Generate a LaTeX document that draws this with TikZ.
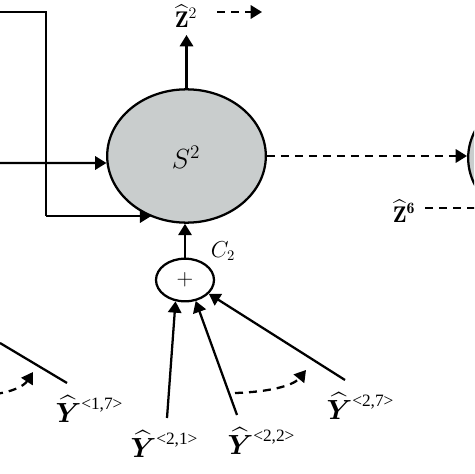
\documentclass[tikz,border=0pt]{standalone}
\usepackage{amsmath,bm}
\usepackage{fontspec}
\newfontfamily\tms{Liberation Serif}
\usetikzlibrary{arrows.meta,shapes.geometric}
\definecolor{cellgray}{RGB}{201,205,205}
\newcommand{\ysup}[1]{\raisebox{1.1ex}{\tms\fontsize{13}{14}\selectfont#1}}
\begin{document}
\begin{tikzpicture}[x=0.75pt,y=-0.75pt,
  ln/.style={line width=1.7pt},
  arr/.style={ln,-{Triangle[length=8.5pt,width=10pt]}},
  darr/.style={arr,dash pattern=on 6pt off 4.5pt},
  dln/.style={ln,dash pattern=on 6pt off 4.5pt},
  big/.style={ellipse,draw,line width=1.7pt,fill=cellgray,inner sep=0pt,minimum width=119pt,minimum height=100pt},
  sum/.style={ellipse,draw,line width=1.7pt,fill=white,inner sep=0pt,minimum width=43.5pt,minimum height=32pt},
  lab/.style={inner sep=0pt,font=\fontsize{20}{22}\selectfont}
]
\useasboundingbox (0,0) rectangle (474,474);
\clip (0,0) rectangle (474,474);
% main nodes
\node[big] (S2) at (186.5,156) {};
\node[lab] at (186,157) {$S^2$};
\node[big] (S6) at (547.5,158) {};
\node[sum,font=\fontsize{17}{18}\selectfont] (plus) at (185,280) {$+$};
% labels
\node[lab,font=\fontsize{17}{19}\selectfont] (Z2) at (186,16) {$\widehat{\mathbf{Z}}^{2}$};
\node[lab,font=\fontsize{17}{19}\selectfont] (Z6) at (404,211) {$\widehat{\mathbf{Z}}^{\mathbf{6}}$};
\node[lab,font=\fontsize{16}{18}\selectfont] (C2) at (223,251) {$C_2$};
\node[lab] (Y21) at (164,444) {$\widehat{\bm{Y}}$\ysup{<2,1>}};
\node[lab] (Y22) at (261,441) {$\widehat{\bm{Y}}$\ysup{<2,2>}};
\node[lab] (Y27) at (360,406) {$\widehat{\bm{Y}}$\ysup{<2,7>}};
\node[lab] (Y17) at (89,409) {$\widehat{\bm{Y}}$\ysup{<1,7>}};
% coordinates
\coordinate (ftop) at (0,12);
\coordinate (fcorner) at (46,216);
\coordinate (lin) at (0,163);
\coordinate (z2a) at (217,12);
\coordinate (z2b) at (262,12);
\coordinate (z6a) at (425,208);
\coordinate (z6b) at (480,208);
\coordinate (y21s) at (167,418);
\coordinate (y22s) at (237,415);
\coordinate (y27s) at (345,380);
\coordinate (y17a) at (0,343);
\coordinate (y17b) at (67,383);
\coordinate (c2a) at (235,393);
\coordinate (c2b) at (306,370);
\coordinate (c1a) at (-5,394);
\coordinate (c1b) at (33,372);
% connectors
\draw[arr] (S2.north) -- (S2.north |- 0,35);
\draw[darr] (z2a) -- (z2b);
\draw[ln] (ftop) -| (fcorner);
\draw[arr] (fcorner) -- (fcorner -| S2.240);
\draw[arr] (lin) -- (S2.185);
\draw[darr] (S2.east) -- (S2.east -| S6.west);
\draw[dln] (z6a) -- (z6b);
\draw[arr] (plus.north) -- (plus.north |- S2.south);
\draw[arr] (y21s) -- (plus.246);
\draw[arr] (y22s) -- (plus.297);
\draw[arr] (y27s) -- (plus.330);
\draw[ln] (y17a) -- (y17b);
\draw[darr] (c2a) .. controls (268,392) and (293,386) .. (c2b);
\draw[darr] (c1a) .. controls (12,392) and (24,386) .. (c1b);
\end{tikzpicture}
\end{document}
